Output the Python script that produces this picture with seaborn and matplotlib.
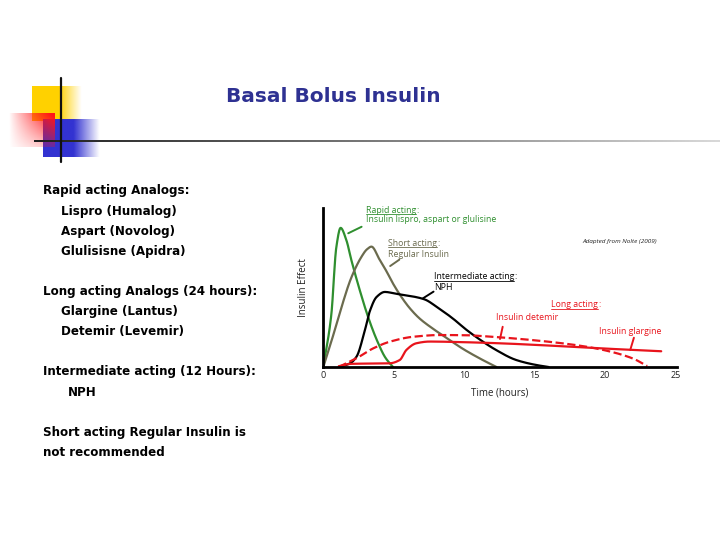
import numpy as np
import pandas as pd
import matplotlib
matplotlib.use("Agg")
import matplotlib.pyplot as plt
import seaborn as sns
from matplotlib.lines import Line2D

sns.set_theme(style="white")
plt.rcParams['font.family'] = ['DejaVu Sans']

# ---------------- data (hours, relative insulin effect 0-100) ----------------
rapid_x = [0, 0.57, 0.92, 1.23, 1.63, 2.0, 2.6, 3.2, 3.8, 4.4, 4.95]
rapid_y = [0, 33, 75, 87.5, 80, 67, 48, 31, 17, 6, 0]

short_x = [0, 0.57, 1.27, 1.98, 2.69, 3.1, 3.42, 4.0, 4.5, 4.95, 5.55, 6.14, 6.84, 7.8, 8.8, 9.9, 11.3, 12.3]
short_y = [0, 16, 37, 56, 69, 74, 75.7, 67.5, 60, 52.5, 44, 37, 30.5, 24, 18, 11.5, 4.5, 0]

nph_x = [1.1, 1.9, 2.36, 2.95, 3.3, 3.78, 4.37, 5.2, 5.7, 6.4, 7.2, 8.03, 9.2, 10.15, 10.6, 12.27, 13.7, 15.1, 16.0]
nph_y = [0, 2.3, 6.5, 23, 35, 44, 47.2, 46, 45.3, 44.3, 42.5, 38, 30.5, 23.5, 20.5, 10.7, 4.4, 1.3, 0]

detemir_x = [1.1, 2.36, 3.54, 4.72, 6.37, 8.26, 10, 12, 15, 18, 20, 22, 23]
detemir_y = [0, 5.5, 11.7, 15.9, 19, 20.1, 20, 19, 16.8, 13.7, 10.5, 5.3, 0.6]

glargine_x = [1.1, 2.0, 4.7, 5.43, 5.9, 6.6, 7.55, 10, 12.27, 16, 20, 24]
glargine_y = [0.5, 2, 2.3, 4.4, 10.7, 14.9, 16, 15.6, 15, 13.5, 11.6, 9.9]

x_ticks = [0, 5, 10, 15, 20, 25]

left_lines = [
    ("Rapid acting Analogs:", 0),
    ("Lispro (Humalog)", 1),
    ("Aspart (Novolog)", 1),
    ("Glulisisne (Apidra)", 1),
    ("", 0),
    ("Long acting Analogs (24 hours):", 0),
    ("Glargine (Lantus)", 1),
    ("Detemir (Levemir)", 1),
    ("", 0),
    ("Intermediate acting (12 Hours):", 0),
    ("NPH", 2),
    ("", 0),
    ("Short acting Regular Insulin is", 0),
    ("not recommended", 0),
]

GREEN = "#2f8f2f"
OLIVE = "#6b6b4e"
RED = "#e8141c"
BLACK = "#000000"

W, H = 720, 540
fig = plt.figure(figsize=(7.2, 5.4), dpi=100)
fig.patch.set_facecolor("white")

# ---------------- slide decorations (overlay in pixel coords) ----------------
deco = fig.add_axes([0, 0, 1, 1], zorder=0)
deco.axis("off")

n = 64
yimg = np.zeros((1, n, 4)); yimg[0, :, :3] = (1.0, 0.82, 0.0)
yimg[0, :, 3] = np.concatenate([np.ones(34), np.linspace(1, 0, n - 34)])
deco.imshow(yimg, extent=[32, 82, 121, 86], aspect="auto", interpolation="bicubic", zorder=1)
bimg = np.zeros((1, n, 4)); bimg[0, :, :3] = (0.2, 0.2, 0.82)
bimg[0, :, 3] = np.concatenate([np.ones(34), np.linspace(1, 0, n - 34)])
deco.imshow(bimg, extent=[43, 100, 157, 119], aspect="auto", interpolation="bicubic", zorder=2)
rimg = np.zeros((n, n, 4)); rimg[:, :, 0] = 1.0; rimg[:, :, 1] = 0.08; rimg[:, :, 2] = 0.1
ax_ = np.linspace(0, 1, n) ** 0.9
ay_ = np.linspace(1, 0.25, n)
rimg[:, :, 3] = np.clip(np.outer(ay_, ax_) * 1.1, 0, 1)
deco.imshow(rimg, extent=[9, 55, 147, 113], aspect="auto", interpolation="bicubic", zorder=3)
limg = np.zeros((1, 128, 4))
g = np.linspace(0.12, 0.85, 128)
limg[0, :, 0] = g; limg[0, :, 1] = g; limg[0, :, 2] = g; limg[0, :, 3] = 1
deco.imshow(limg, extent=[34, 720, 142, 140], aspect="auto", interpolation="bilinear", zorder=4)
deco.plot([61, 61], [78, 162], color="#111111", lw=1.6, zorder=5)
deco.set_xlim(0, W); deco.set_ylim(H, 0)

fig.text(333 / W, 1 - 96 / H, "Basal Bolus Insulin", ha="center", va="center",
         fontsize=14.5, fontweight="bold", color="#2e3192")

y = 191
for txt, ind in left_lines:
    if txt:
        xoff = {0: 43, 1: 61, 2: 68}[ind]
        fig.text(xoff / W, 1 - y / H, txt, ha="left", va="center",
                 fontsize=8.6, fontweight="bold", color="black")
    y += 20.1

# ---------------- chart ----------------
x0, x1, yb, yt = 323.3, 676.7, 367, 208
ax = fig.add_axes([x0 / W, 1 - yb / H, (x1 - x0) / W, (yb - yt) / H], zorder=2)
ax.patch.set_alpha(0)

def series(xs, ys, name):
    return pd.DataFrame({"hours": xs, "effect": ys, "series": name})

df = pd.concat([
    series(rapid_x, rapid_y, "rapid"),
    series(short_x, short_y, "short"),
    series(nph_x, nph_y, "nph"),
    series(detemir_x, detemir_y, "detemir"),
    series(glargine_x, glargine_y, "glargine"),
])

def pchip(d):
    """Monotone cubic (Fritsch-Carlson) interpolation through the read points."""
    xs = np.asarray(d["hours"], float); ys = np.asarray(d["effect"], float)
    h = np.diff(xs); delta = np.diff(ys) / h
    m = np.zeros_like(ys)
    for i in range(1, len(ys) - 1):
        if delta[i - 1] * delta[i] > 0:
            w1 = 2 * h[i] + h[i - 1]; w2 = h[i] + 2 * h[i - 1]
            m[i] = (w1 + w2) / (w1 / delta[i - 1] + w2 / delta[i])
    m[0] = delta[0]; m[-1] = delta[-1]
    t_all, y_all = [], []
    for i in range(len(xs) - 1):
        t = np.linspace(0, 1, 25, endpoint=(i == len(xs) - 2))
        h00 = 2 * t**3 - 3 * t**2 + 1; h10 = t**3 - 2 * t**2 + t
        h01 = -2 * t**3 + 3 * t**2; h11 = t**3 - t**2
        yv = h00 * ys[i] + h10 * h[i] * m[i] + h01 * ys[i + 1] + h11 * h[i] * m[i + 1]
        t_all.append(xs[i] + t * h[i]); y_all.append(yv)
    return pd.DataFrame({"hours": np.concatenate(t_all), "effect": np.concatenate(y_all)})

styles = {
    "rapid": (GREEN, "-"),
    "short": (OLIVE, "-"),
    "nph": (BLACK, "-"),
    "detemir": (RED, "--"),
    "glargine": (RED, "-"),
}
for name, (col, ls) in styles.items():
    d = pchip(df[df.series == name])
    sns.lineplot(data=d, x="hours", y="effect", color=col, linestyle=ls,
                 lw=1.6, ax=ax, estimator=None, sort=False)

ax.set_xlim(0, 25.1)
ax.set_ylim(0, 100)
ax.set_xticks(x_ticks)
ax.set_xticklabels([str(t) for t in x_ticks], fontsize=6.5, family="Open Sans", color="#222222")
ax.set_yticks([])
ax.tick_params(axis="x", direction="in", length=4, width=1.5, color="black", pad=3)
for s in ["top", "right"]:
    ax.spines[s].set_visible(False)
for s in ["left", "bottom"]:
    ax.spines[s].set_color("black")
    ax.spines[s].set_linewidth(2.0)
ax.set_xlabel("Time (hours)", fontsize=7, family="Open Sans", color="#222222", labelpad=5)
ax.set_ylabel("Insulin Effect", fontsize=7, family="Open Sans", color="#222222", labelpad=10)

FS = 6.3
fam = "Open Sans"
underlined = []
t = ax.text(3.03, 98.6, "Rapid acting", color=GREEN, fontsize=FS, family=fam, va="center", ha="left")
underlined.append((t, GREEN))
ax.annotate(":", xy=(1, 0.5), xycoords=t, color=GREEN, fontsize=FS, family=fam, va="center", ha="left")
ax.text(3.03, 92.6, "Insulin lispro, aspart or glulisine", color=GREEN, fontsize=FS, family=fam, va="center", ha="left")
ax.plot([1.77, 2.72], [84.1, 88.2], color=GREEN, lw=1.4)

t = ax.text(4.6, 77.8, "Short acting", color=OLIVE, fontsize=FS, family=fam, va="center", ha="left")
underlined.append((t, OLIVE))
ax.annotate(":", xy=(1, 0.5), xycoords=t, color=OLIVE, fontsize=FS, family=fam, va="center", ha="left")
ax.text(4.6, 70.9, "Regular Insulin", color=OLIVE, fontsize=FS, family=fam, va="center", ha="left")
ax.plot([4.75, 5.4], [63.5, 67.5], color=OLIVE, lw=1.4)

t = ax.text(7.86, 56.8, "Intermediate acting", color=BLACK, fontsize=FS, family=fam, va="center", ha="left")
underlined.append((t, BLACK))
ax.annotate(":", xy=(1, 0.5), xycoords=t, color=BLACK, fontsize=FS, family=fam, va="center", ha="left")
ax.text(7.86, 49.9, "NPH", color=BLACK, fontsize=FS, family=fam, va="center", ha="left")
ax.plot([7.08, 7.83], [43.2, 47.4], color=BLACK, lw=1.4)

t = ax.text(16.2, 39.0, "Long acting", color=RED, fontsize=FS, family=fam, va="center", ha="left")
underlined.append((t, RED))
ax.annotate(":", xy=(1, 0.5), xycoords=t, color=RED, fontsize=FS, family=fam, va="center", ha="left")
ax.text(12.27, 31.0, "Insulin detemir", color=RED, fontsize=FS, family=fam, va="center", ha="left")
ax.plot([12.55, 12.74], [17.6, 25.3], color=RED, lw=1.4)
ax.text(19.6, 22.6, "Insulin glargine", color=RED, fontsize=FS, family=fam, va="center", ha="left")
ax.plot([21.8, 22.06], [10.7, 18.4], color=RED, lw=1.4)

ax.text(18.4, 78.8, "Adapted from Nolte (2009)", color="#222222", fontsize=4.6, family=fam,
        style="italic", va="center", ha="left")

fig.canvas.draw()
r = fig.canvas.get_renderer()
for t, col in underlined:
    bb = t.get_window_extent(renderer=r)
    fx0, fx1 = bb.x0 / fig.bbox.width, bb.x1 / fig.bbox.width
    fy = (bb.y0 + 0.3) / fig.bbox.height
    fig.add_artist(Line2D([fx0, fx1], [fy, fy], color=col, lw=0.6, transform=fig.transFigure))

fig.savefig("out.png", dpi=100, facecolor="white")
